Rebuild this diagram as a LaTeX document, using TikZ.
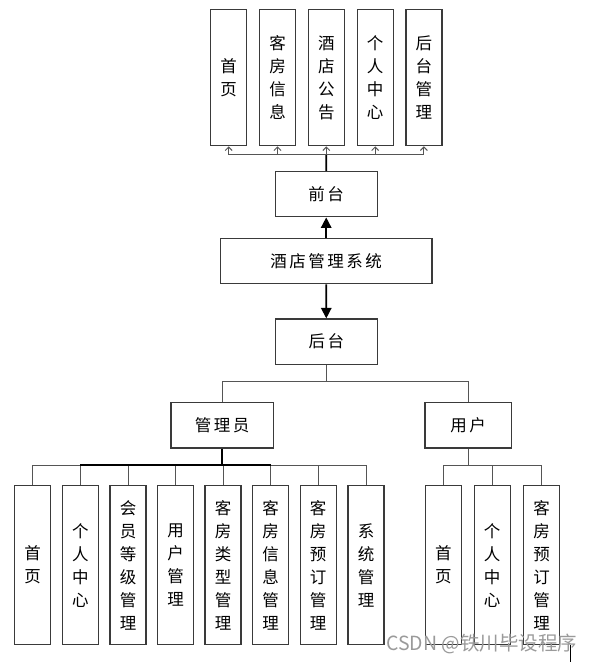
\documentclass[tikz,border=0pt]{standalone}
\usepackage{fontspec}
\usetikzlibrary{arrows.meta}
\newfontfamily\cjk{Noto Sans CJK SC}
\newcommand{\kgap}{\hspace{2.5pt}}
\definecolor{boxline}{HTML}{3A3A3A}
\definecolor{connline}{HTML}{555555}
\definecolor{wmark}{HTML}{9A9A9A}
\tikzset{
  vbox/.style={draw=boxline, line width=1.2pt, fill=white, minimum width=36pt, inner sep=0pt, align=center, text width=36pt, font=\cjk\fontsize{16.5}{23}\selectfont},
  topbox/.style={vbox, minimum height=136.4pt},
  botbox/.style={vbox, minimum height=159pt},
  hbox/.style={draw=boxline, line width=1.2pt, fill=white, minimum height=45.5pt, inner sep=0pt, font=\cjk\fontsize{16.5}{20}\selectfont},
  conn/.style={draw=connline, line width=1pt},
  bigarrow/.style={draw=black, line width=1.6pt, -{Triangle[length=10.5pt,width=10.5pt]}},
  smallarrow/.style={conn, -{Straight Barb[length=3.5pt,width=7pt]}},
}
\begin{document}
\begin{tikzpicture}[x=1pt,y=-1pt]
\useasboundingbox (0,0) rectangle (593,662);
% top row
\node[topbox] (t1) at (228.7,77.5) {首\\页};
\node[topbox] (t2) at (277.5,77.5) {客\\房\\信\\息};
\node[topbox] (t3) at (326.3,77.5) {酒\\店\\公\\告};
\node[topbox] (t4) at (375.2,77.5) {个\\人\\中\\心};
\node[topbox] (t5) at (423.9,77.5) {后\\台\\管\\理};
% middle
\node[hbox, minimum width=102pt] (qt) at (326.2,194.1) {前\kgap 台};
\node[hbox, minimum width=211.7pt] (sys) at (326.2,261) {酒\kgap 店\kgap 管\kgap 理\kgap 系\kgap 统};
\node[hbox, minimum width=102pt] (ht) at (326.3,341.7) {后\kgap 台};
\node[hbox, minimum width=102.3pt] (adm) at (222.2,425.2) {管\kgap 理\kgap 员};
\node[hbox, minimum width=86.3pt] (usr) at (468.2,425.2) {用\kgap 户};
% admin children
\node[botbox] (a1) at (32.7,565.2) {首\\页};
\node[botbox] (a2) at (80.3,565.2) {个\\人\\中\\心};
\node[botbox] (a3) at (128,565.2) {会\\员\\等\\级\\管\\理};
\node[botbox] (a4) at (175.5,565.2) {用\\户\\管\\理};
\node[botbox] (a5) at (223,565.2) {客\\房\\类\\型\\管\\理};
\node[botbox] (a6) at (270.5,565.2) {客\\房\\信\\息\\管\\理};
\node[botbox] (a7) at (318.2,565.2) {客\\房\\预\\订\\管\\理};
\node[botbox] (a8) at (366,565.2) {系\\统\\管\\理};
% user children
\node[botbox] (u1) at (443.3,565.2) {首\\页};
\node[botbox] (u2) at (492.2,565.2) {个\\人\\中\\心};
\node[botbox] (u3) at (541.7,565.2) {客\\房\\预\\订\\管\\理};
% connectors top
\coordinate (tb) at (326.3,154.3);
\draw[draw=black, line width=1.6pt] (qt.north) -- (tb);
\foreach \t in {t1,t2,t3,t4,t5} { \draw[smallarrow] (tb) -| (\t.south); }
\draw[bigarrow] (sys.north) -- (qt.south);
\draw[bigarrow] (sys.south) -- (ht.north);
% backend split
\coordinate (hb) at (326.3,381.7);
\draw[conn] (ht.south) -- (hb);
\draw[conn] (hb) -| (adm.north);
\draw[conn] (hb) -| (usr.north);
% admin bus
\coordinate (ab) at (222.2,465);
\draw[draw=black, line width=1.5pt] (adm.south) -- (ab);
\foreach \a in {a1,a2,a3,a4,a5,a6,a7,a8} { \draw[conn] (ab) -| (\a.north); }
\draw[draw=black, line width=1.2pt] (a2.north |- ab) -- (a6.north |- ab);
% user bus
\coordinate (ub) at (468.2,465);
\draw[conn] (usr.south) -- (ub);
\foreach \u in {u1,u2,u3} { \draw[conn] (ub) -| (\u.north); }
% stray mark bottom right
\coordinate (m1) at (570.7,645);
\coordinate (m2) at (570.7,662);
\draw[draw=black, line width=1.5pt] (m1) -- (m2);
% watermark
\node[anchor=base west, inner sep=0pt, text=wmark, font=\cjk\fontsize{19.5}{22}\selectfont] (wm) at (386,650) {CSDN @铁川毕设程序};
\end{tikzpicture}
\end{document}
